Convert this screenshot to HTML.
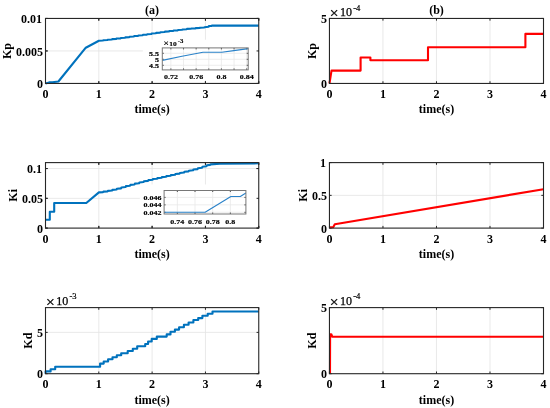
<!DOCTYPE html>
<html><head><meta charset="utf-8"><title>PID gains</title>
<style>
html,body{margin:0;padding:0;background:#fff;}
body{width:550px;height:408px;overflow:hidden;}
svg{display:block;}
#fig{width:550px;height:408px;}
svg text{font-family:"Liberation Serif", serif;}
</style></head>
<body>
<div id="fig">
<svg width="550" height="408" viewBox="0 0 550 408">
<rect width="550" height="408" fill="#fff"/>
<path d="M98.81 18.45V83.45M152.12 18.45V83.45M205.44 18.45V83.45M45.5 50.95H258.75" stroke="#e3e3e3" stroke-width="0.8" fill="none"/>
<path d="M45.5 83.45v-2.2M45.5 18.45v2.2M98.81 83.45v-2.2M98.81 18.45v2.2M152.12 83.45v-2.2M152.12 18.45v2.2M205.44 83.45v-2.2M205.44 18.45v2.2M258.75 83.45v-2.2M258.75 18.45v2.2M45.5 83.45h2.2M258.75 83.45h-2.2M45.5 50.95h2.2M258.75 50.95h-2.2M45.5 18.45h2.2M258.75 18.45h-2.2" stroke="#262626" stroke-width="1.0" fill="none"/>
<rect x="142.8" y="39.7" width="115.4" height="40.8" fill="#fff"/>
<path d="M98.81 18.45V83.45M152.12 18.45V83.45M205.44 18.45V83.45M45.5 50.95H258.75" stroke="none" stroke-width="0.8" fill="none"/>
<path d="M45.5 83.45v-2.2M45.5 18.45v2.2M98.81 83.45v-2.2M98.81 18.45v2.2M152.12 83.45v-2.2M152.12 18.45v2.2M205.44 83.45v-2.2M205.44 18.45v2.2M258.75 83.45v-2.2M258.75 18.45v2.2M45.5 83.45h2.2M258.75 83.45h-2.2M45.5 50.95h2.2M258.75 50.95h-2.2M45.5 18.45h2.2M258.75 18.45h-2.2" stroke="#262626" stroke-width="1.0" fill="none"/>
<path d="M45.5 83.4 L49.1 82.4 L52.4 82.3 L58.4 81.5 L85.8 47.7 L98.9 40.7 L102.95 40.53 L103.3 40.2 L107.35 40.02 L107.7 39.68 L111.75 39.48 L112.1 39.12 L116.15 38.92 L116.5 38.55 L120.55 38.35 L120.9 37.97 L124.95 37.75 L125.3 37.34 L129.35 37.12 L129.7 36.71 L133.75 36.48 L134.1 36.07 L138.15 35.85 L138.5 35.44 L142.55 35.22 L142.9 34.81 L146.95 34.59 L147.3 34.18 L151.35 33.95 L151.7 33.54 L155.75 33.32 L156.1 32.9 L160.15 32.68 L160.5 32.26 L164.55 32.03 L164.9 31.61 L168.95 31.42 L169.3 31.07 L173.35 30.88 L173.7 30.52 L177.75 30.33 L178.1 29.98 L182.15 29.79 L182.5 29.43 L186.55 29.24 L186.9 28.89 L190.95 28.75 L191.3 28.49 L195.35 28.35 L195.7 28.09 L199.75 27.95 L200.1 27.68 L204.15 27.52 L204.5 27.22 L208.55 26.78 L208.9 25.97 L211.55 25.84 L211.9 25.6 L258.75 25.6" stroke="#0072bd" stroke-width="2.1" fill="none" stroke-linejoin="round" stroke-linecap="butt"/>
<rect x="45.5" y="18.45" width="213.25" height="65" stroke="#262626" stroke-width="1.1" fill="none"/>
<text x="45.5" y="97.95" font-size="12" text-anchor="middle" font-weight="bold" fill="#000">0</text>
<text x="98.81" y="97.95" font-size="12" text-anchor="middle" font-weight="bold" fill="#000">1</text>
<text x="152.12" y="97.95" font-size="12" text-anchor="middle" font-weight="bold" fill="#000">2</text>
<text x="205.44" y="97.95" font-size="12" text-anchor="middle" font-weight="bold" fill="#000">3</text>
<text x="258.75" y="97.95" font-size="12" text-anchor="middle" font-weight="bold" fill="#000">4</text>
<text x="152.12" y="113.35" font-size="12" text-anchor="middle" font-weight="bold" fill="#000">time(s)</text>
<text x="43.1" y="88.05" font-size="12" text-anchor="end" font-weight="bold" fill="#000">0</text>
<text x="43.1" y="55.55" font-size="12" text-anchor="end" font-weight="bold" fill="#000">0.005</text>
<text x="42.1" y="23.05" font-size="12" text-anchor="end" font-weight="bold" fill="#000">0.01</text>
<text x="10.9" y="50.95" font-size="12" text-anchor="middle" font-weight="bold" fill="#000" transform="rotate(-90 10.9 50.95)">Kp</text>
<text x="152.12" y="13.55" font-size="12" text-anchor="middle" font-weight="bold" fill="#000">(a)</text>
<rect x="162.3" y="47.9" width="85.9" height="22" fill="#fff"/>
<path d="M170.89 47.9V69.9M183.52 47.9V69.9M196.15 47.9V69.9M208.79 47.9V69.9M221.42 47.9V69.9M234.05 47.9V69.9M246.68 47.9V69.9M162.3 65.3H248.2M162.3 59.3H248.2M162.3 53.3H248.2" stroke="#e8e8e8" stroke-width="0.8" fill="none"/>
<path d="M170.89 69.9v-1.5M170.89 47.9v1.5M183.52 69.9v-1.5M183.52 47.9v1.5M196.15 69.9v-1.5M196.15 47.9v1.5M208.79 69.9v-1.5M208.79 47.9v1.5M221.42 69.9v-1.5M221.42 47.9v1.5M234.05 69.9v-1.5M234.05 47.9v1.5M246.68 69.9v-1.5M246.68 47.9v1.5M162.3 65.3h1.5M248.2 65.3h-1.5M162.3 59.3h1.5M248.2 59.3h-1.5M162.3 53.3h1.5M248.2 53.3h-1.5" stroke="#262626" stroke-width="0.8" fill="none"/>
<path d="M162.3 60.4 L182 56.2 L203 52.2 L221.8 52.2 L233.8 50.6 L248.2 48.6" stroke="#2a82c9" stroke-width="1.1" fill="none" stroke-linejoin="round" stroke-linecap="butt"/>
<rect x="162.3" y="47.9" width="85.9" height="22" stroke="#777" stroke-width="1.0" fill="none"/>
<text transform="translate(170.89 79.2) scale(1 0.85)" x="0" y="0" font-size="8" text-anchor="middle" font-weight="bold" fill="#000" stroke="#000" stroke-width="0.2">0.72</text>
<text transform="translate(196.15 79.2) scale(1 0.85)" x="0" y="0" font-size="8" text-anchor="middle" font-weight="bold" fill="#000" stroke="#000" stroke-width="0.2">0.76</text>
<text transform="translate(221.42 79.2) scale(1 0.85)" x="0" y="0" font-size="8" text-anchor="middle" font-weight="bold" fill="#000" stroke="#000" stroke-width="0.2">0.8</text>
<text transform="translate(246.68 79.2) scale(1 0.85)" x="0" y="0" font-size="8" text-anchor="middle" font-weight="bold" fill="#000" stroke="#000" stroke-width="0.2">0.84</text>
<text transform="translate(159.1 55.7) scale(1 0.85)" x="0" y="0" font-size="8" text-anchor="end" font-weight="bold" fill="#000" stroke="#000" stroke-width="0.2">5.5</text>
<text transform="translate(159.1 61.7) scale(1 0.85)" x="0" y="0" font-size="8" text-anchor="end" font-weight="bold" fill="#000" stroke="#000" stroke-width="0.2">5</text>
<text transform="translate(159.1 67.7) scale(1 0.85)" x="0" y="0" font-size="8" text-anchor="end" font-weight="bold" fill="#000" stroke="#000" stroke-width="0.2">4.5</text>
<text transform="translate(163.4 45.7) scale(1 0.85)" x="0" y="0" font-size="9.5" text-anchor="start" font-weight="normal" fill="#000" stroke="#000" stroke-width="0.2">&#215;</text>
<text transform="translate(169.3 45.7) scale(1 0.85)" x="0" y="0" font-size="7.5" text-anchor="start" font-weight="bold" fill="#000" stroke="#000" stroke-width="0.15">10</text>
<text transform="translate(177.7 43.3) scale(1 0.85)" x="0" y="0" font-size="6.8" text-anchor="start" font-weight="bold" fill="#000" stroke="#000" stroke-width="0.15">-3</text>
<path d="M98.81 162.6V228.1M152.12 162.6V228.1M205.44 162.6V228.1M45.5 198.33H258.75M45.5 168.55H258.75" stroke="#e3e3e3" stroke-width="0.8" fill="none"/>
<path d="M45.5 228.1v-2.2M45.5 162.6v2.2M98.81 228.1v-2.2M98.81 162.6v2.2M152.12 228.1v-2.2M152.12 162.6v2.2M205.44 228.1v-2.2M205.44 162.6v2.2M258.75 228.1v-2.2M258.75 162.6v2.2M45.5 228.1h2.2M258.75 228.1h-2.2M45.5 198.33h2.2M258.75 198.33h-2.2M45.5 168.55h2.2M258.75 168.55h-2.2" stroke="#262626" stroke-width="1.0" fill="none"/>
<rect x="139.8" y="184.5" width="118.4" height="40.5" fill="#fff"/>
<path d="M98.81 162.6V228.1M152.12 162.6V228.1M205.44 162.6V228.1M45.5 198.33H258.75M45.5 168.55H258.75" stroke="none" stroke-width="0.8" fill="none"/>
<path d="M45.5 228.1v-2.2M45.5 162.6v2.2M98.81 228.1v-2.2M98.81 162.6v2.2M152.12 228.1v-2.2M152.12 162.6v2.2M205.44 228.1v-2.2M205.44 162.6v2.2M258.75 228.1v-2.2M258.75 162.6v2.2M45.5 228.1h2.2M258.75 228.1h-2.2M45.5 198.33h2.2M258.75 198.33h-2.2M45.5 168.55h2.2M258.75 168.55h-2.2" stroke="#262626" stroke-width="1.0" fill="none"/>
<path d="M45.5 219.8 L49.8 219.8 L49.8 211.7 L54.2 211.7 L54.2 203 L86.3 203 L98.9 192.4 L103.05 192.14 L103.4 191.67 L107.55 191.39 L107.9 190.87 L112.05 190.51 L112.4 189.84 L116.55 189.48 L116.9 188.81 L121.05 188.35 L121.4 187.51 L125.55 187.03 L125.9 186.15 L130.05 185.69 L130.4 184.85 L134.55 184.43 L134.9 183.65 L139.05 183.23 L139.4 182.45 L143.55 182.05 L143.9 181.3 L148.05 180.89 L148.4 180.14 L152.55 179.77 L152.9 179.07 L157.05 178.72 L157.4 178.08 L161.55 177.73 L161.9 177.08 L166.05 176.74 L166.4 176.09 L170.55 175.74 L170.9 175.1 L175.05 174.73 L175.4 174.05 L179.55 173.66 L179.9 172.93 L184.05 172.54 L184.4 171.81 L188.55 171.42 L188.9 170.69 L193.05 170.3 L193.4 169.57 L197.55 169.1 L197.9 168.22 L202.05 167.71 L202.4 166.76 L206.55 166.21 L206.9 165.2 L210.15 164.92 L210.5 164.4 L220 163.8 L258.75 163.3" stroke="#0072bd" stroke-width="2.1" fill="none" stroke-linejoin="round" stroke-linecap="butt"/>
<rect x="45.5" y="162.6" width="213.25" height="65.5" stroke="#262626" stroke-width="1.1" fill="none"/>
<text x="45.5" y="242.6" font-size="12" text-anchor="middle" font-weight="bold" fill="#000">0</text>
<text x="98.81" y="242.6" font-size="12" text-anchor="middle" font-weight="bold" fill="#000">1</text>
<text x="152.12" y="242.6" font-size="12" text-anchor="middle" font-weight="bold" fill="#000">2</text>
<text x="205.44" y="242.6" font-size="12" text-anchor="middle" font-weight="bold" fill="#000">3</text>
<text x="258.75" y="242.6" font-size="12" text-anchor="middle" font-weight="bold" fill="#000">4</text>
<text x="152.12" y="258" font-size="12" text-anchor="middle" font-weight="bold" fill="#000">time(s)</text>
<text x="43.1" y="232.7" font-size="12" text-anchor="end" font-weight="bold" fill="#000">0</text>
<text x="43.1" y="202.93" font-size="12" text-anchor="end" font-weight="bold" fill="#000">0.05</text>
<text x="42.1" y="173.15" font-size="12" text-anchor="end" font-weight="bold" fill="#000">0.1</text>
<text x="17.3" y="195.35" font-size="12" text-anchor="middle" font-weight="bold" fill="#000" transform="rotate(-90 17.3 195.35)">Ki</text>
<rect x="164.1" y="190.5" width="81.8" height="23.5" fill="#fff"/>
<path d="M177.35 190.5V214M195.02 190.5V214M212.69 190.5V214M230.35 190.5V214M164.1 212.32H245.9M164.1 204.86H245.9M164.1 197.4H245.9" stroke="#e8e8e8" stroke-width="0.8" fill="none"/>
<path d="M177.35 214v-1.5M177.35 190.5v1.5M195.02 214v-1.5M195.02 190.5v1.5M212.69 214v-1.5M212.69 190.5v1.5M230.35 214v-1.5M230.35 190.5v1.5M164.1 212.32h1.5M245.9 212.32h-1.5M164.1 204.86h1.5M245.9 204.86h-1.5M164.1 197.4h1.5M245.9 197.4h-1.5" stroke="#262626" stroke-width="0.8" fill="none"/>
<path d="M164.1 212.3 L205.1 212.3 L230.9 196.5 L240.3 196.5 L245.9 193" stroke="#2a82c9" stroke-width="1.1" fill="none" stroke-linejoin="round" stroke-linecap="butt"/>
<rect x="164.1" y="190.5" width="81.8" height="23.5" stroke="#777" stroke-width="1.0" fill="none"/>
<text transform="translate(177.35 223.6) scale(1 0.85)" x="0" y="0" font-size="8" text-anchor="middle" font-weight="bold" fill="#000" stroke="#000" stroke-width="0.2">0.74</text>
<text transform="translate(195.02 223.6) scale(1 0.85)" x="0" y="0" font-size="8" text-anchor="middle" font-weight="bold" fill="#000" stroke="#000" stroke-width="0.2">0.76</text>
<text transform="translate(212.69 223.6) scale(1 0.85)" x="0" y="0" font-size="8" text-anchor="middle" font-weight="bold" fill="#000" stroke="#000" stroke-width="0.2">0.78</text>
<text transform="translate(230.35 223.6) scale(1 0.85)" x="0" y="0" font-size="8" text-anchor="middle" font-weight="bold" fill="#000" stroke="#000" stroke-width="0.2">0.8</text>
<text transform="translate(161.4 200) scale(1 0.85)" x="0" y="0" font-size="8" text-anchor="end" font-weight="bold" fill="#000" stroke="#000" stroke-width="0.2">0.046</text>
<text transform="translate(161.4 207.46) scale(1 0.85)" x="0" y="0" font-size="8" text-anchor="end" font-weight="bold" fill="#000" stroke="#000" stroke-width="0.2">0.044</text>
<text transform="translate(161.4 214.92) scale(1 0.85)" x="0" y="0" font-size="8" text-anchor="end" font-weight="bold" fill="#000" stroke="#000" stroke-width="0.2">0.042</text>
<path d="M98.81 307.6V373.7M152.12 307.6V373.7M205.44 307.6V373.7M45.5 332.39H258.75" stroke="#e3e3e3" stroke-width="0.8" fill="none"/>
<path d="M45.5 373.7v-2.2M45.5 307.6v2.2M98.81 373.7v-2.2M98.81 307.6v2.2M152.12 373.7v-2.2M152.12 307.6v2.2M205.44 373.7v-2.2M205.44 307.6v2.2M258.75 373.7v-2.2M258.75 307.6v2.2M45.5 373.7h2.2M258.75 373.7h-2.2M45.5 332.39h2.2M258.75 332.39h-2.2" stroke="#262626" stroke-width="1.0" fill="none"/>
<path d="M45.6 373.7 L45.6 371.4 L50.6 371.4 L50.6 369.2 L55.2 369.2 L55.2 366.7 L100.1 366.7 L100.1 363.6 L103.7 363.6 L103.7 361.5 L108.1 361.5 L108.1 359.3 L112.5 359.3 L112.5 357.3 L116.8 357.3 L116.8 355.3 L121.2 355.3 L121.2 353.2 L127.7 353.2 L127.7 351 L132.8 351 L132.8 348.8 L137.2 348.8 L137.2 346.2 L145.2 346.2 L145.2 344 L148.1 344 L148.1 341.5 L151.7 341.5 L151.7 338.9 L156.8 338.9 L156.8 336.6 L166.7 336.6 L166.7 334.4 L170.5 334.4 L170.5 331.8 L174.9 331.8 L174.9 329.6 L179.1 329.6 L179.1 327.3 L183.9 327.3 L183.9 324.8 L188.6 324.8 L188.6 322.5 L193.4 322.5 L193.4 320 L198.2 320 L198.2 318.1 L202.4 318.1 L202.4 315.7 L207.7 315.7 L207.7 313.7 L212.5 313.7 L212.5 311.5 L258.75 311.5" stroke="#0072bd" stroke-width="2.1" fill="none" stroke-linejoin="round" stroke-linecap="butt"/>
<rect x="45.5" y="307.6" width="213.25" height="66.1" stroke="#262626" stroke-width="1.1" fill="none"/>
<text x="45.5" y="388.2" font-size="12" text-anchor="middle" font-weight="bold" fill="#000">0</text>
<text x="98.81" y="388.2" font-size="12" text-anchor="middle" font-weight="bold" fill="#000">1</text>
<text x="152.12" y="388.2" font-size="12" text-anchor="middle" font-weight="bold" fill="#000">2</text>
<text x="205.44" y="388.2" font-size="12" text-anchor="middle" font-weight="bold" fill="#000">3</text>
<text x="258.75" y="388.2" font-size="12" text-anchor="middle" font-weight="bold" fill="#000">4</text>
<text x="152.12" y="403.6" font-size="12" text-anchor="middle" font-weight="bold" fill="#000">time(s)</text>
<text x="43.1" y="378.3" font-size="12" text-anchor="end" font-weight="bold" fill="#000">0</text>
<text x="43.1" y="336.99" font-size="12" text-anchor="end" font-weight="bold" fill="#000">5</text>
<text x="32.2" y="340.65" font-size="12" text-anchor="middle" font-weight="bold" fill="#000" transform="rotate(-90 32.2 340.65)">Kd</text>
<text x="45.9" y="306.5" font-size="15.5" font-weight="normal" fill="#000" stroke="#000" stroke-width="0.3">&#215;</text>
<text x="56.3" y="304.6" font-size="12" font-weight="normal" fill="#000" stroke="#000" stroke-width="0.25">10</text>
<text x="69.5" y="299.2" font-size="8.6" font-weight="normal" fill="#000" stroke="#000" stroke-width="0.2">-3</text>
<path d="M382.96 18.45V83.45M436.48 18.45V83.45M489.99 18.45V83.45" stroke="#e3e3e3" stroke-width="0.8" fill="none"/>
<path d="M329.45 83.45v-2.2M329.45 18.45v2.2M382.96 83.45v-2.2M382.96 18.45v2.2M436.48 83.45v-2.2M436.48 18.45v2.2M489.99 83.45v-2.2M489.99 18.45v2.2M543.5 83.45v-2.2M543.5 18.45v2.2M329.45 83.45h2.2M543.5 83.45h-2.2M329.45 18.45h2.2M543.5 18.45h-2.2" stroke="#262626" stroke-width="1.0" fill="none"/>
<path d="M329.5 83.4 L331.5 70.6 L360.6 70.6 L360.6 57.5 L370.4 57.5 L370.4 60.2 L428 60.2 L428 47.3 L525.4 47.3 L525.4 33.9 L543.5 33.9" stroke="#ff0000" stroke-width="2.1" fill="none" stroke-linejoin="round" stroke-linecap="butt"/>
<rect x="329.45" y="18.45" width="214.05" height="65" stroke="#262626" stroke-width="1.1" fill="none"/>
<text x="329.45" y="97.95" font-size="12" text-anchor="middle" font-weight="bold" fill="#000">0</text>
<text x="382.96" y="97.95" font-size="12" text-anchor="middle" font-weight="bold" fill="#000">1</text>
<text x="436.48" y="97.95" font-size="12" text-anchor="middle" font-weight="bold" fill="#000">2</text>
<text x="489.99" y="97.95" font-size="12" text-anchor="middle" font-weight="bold" fill="#000">3</text>
<text x="543.5" y="97.95" font-size="12" text-anchor="middle" font-weight="bold" fill="#000">4</text>
<text x="436.48" y="113.35" font-size="12" text-anchor="middle" font-weight="bold" fill="#000">time(s)</text>
<text x="327.05" y="88.05" font-size="12" text-anchor="end" font-weight="bold" fill="#000">0</text>
<text x="327.05" y="23.05" font-size="12" text-anchor="end" font-weight="bold" fill="#000">5</text>
<text x="315.9" y="50.95" font-size="12" text-anchor="middle" font-weight="bold" fill="#000" transform="rotate(-90 315.9 50.95)">Kp</text>
<text x="436.48" y="13.55" font-size="12" text-anchor="middle" font-weight="bold" fill="#000">(b)</text>
<text x="329.65" y="17.95" font-size="15.5" font-weight="normal" fill="#000" stroke="#000" stroke-width="0.3">&#215;</text>
<text x="340.05" y="16.05" font-size="12" font-weight="normal" fill="#000" stroke="#000" stroke-width="0.25">10</text>
<text x="353.25" y="10.65" font-size="8.6" font-weight="normal" fill="#000" stroke="#000" stroke-width="0.2">-4</text>
<path d="M382.96 162.6V228.1M436.48 162.6V228.1M489.99 162.6V228.1M329.45 195.35H543.5" stroke="#e3e3e3" stroke-width="0.8" fill="none"/>
<path d="M329.45 228.1v-2.2M329.45 162.6v2.2M382.96 228.1v-2.2M382.96 162.6v2.2M436.48 228.1v-2.2M436.48 162.6v2.2M489.99 228.1v-2.2M489.99 162.6v2.2M543.5 228.1v-2.2M543.5 162.6v2.2M329.45 228.1h2.2M543.5 228.1h-2.2M329.45 195.35h2.2M543.5 195.35h-2.2M329.45 162.6h2.2M543.5 162.6h-2.2" stroke="#262626" stroke-width="1.0" fill="none"/>
<path d="M329.5 227.3 L333.2 227.3 L334.8 224.3 L543.5 189.2" stroke="#ff0000" stroke-width="2.1" fill="none" stroke-linejoin="round" stroke-linecap="butt"/>
<rect x="329.45" y="162.6" width="214.05" height="65.5" stroke="#262626" stroke-width="1.1" fill="none"/>
<text x="329.45" y="242.6" font-size="12" text-anchor="middle" font-weight="bold" fill="#000">0</text>
<text x="382.96" y="242.6" font-size="12" text-anchor="middle" font-weight="bold" fill="#000">1</text>
<text x="436.48" y="242.6" font-size="12" text-anchor="middle" font-weight="bold" fill="#000">2</text>
<text x="489.99" y="242.6" font-size="12" text-anchor="middle" font-weight="bold" fill="#000">3</text>
<text x="543.5" y="242.6" font-size="12" text-anchor="middle" font-weight="bold" fill="#000">4</text>
<text x="436.48" y="258" font-size="12" text-anchor="middle" font-weight="bold" fill="#000">time(s)</text>
<text x="327.05" y="232.7" font-size="12" text-anchor="end" font-weight="bold" fill="#000">0</text>
<text x="327.05" y="199.95" font-size="12" text-anchor="end" font-weight="bold" fill="#000">0.5</text>
<text x="326.05" y="167.2" font-size="12" text-anchor="end" font-weight="bold" fill="#000">1</text>
<text x="307.1" y="195.35" font-size="12" text-anchor="middle" font-weight="bold" fill="#000" transform="rotate(-90 307.1 195.35)">Ki</text>
<path d="M382.96 307.6V373.7M436.48 307.6V373.7M489.99 307.6V373.7" stroke="#e3e3e3" stroke-width="0.8" fill="none"/>
<path d="M329.45 373.7v-2.2M329.45 307.6v2.2M382.96 373.7v-2.2M382.96 307.6v2.2M436.48 373.7v-2.2M436.48 307.6v2.2M489.99 373.7v-2.2M489.99 307.6v2.2M543.5 373.7v-2.2M543.5 307.6v2.2M329.45 373.7h2.2M543.5 373.7h-2.2M329.45 307.6h2.2M543.5 307.6h-2.2" stroke="#262626" stroke-width="1.0" fill="none"/>
<path d="M330 373.7 L330.1 334.2 L331.3 334.2 L332.3 336.8 L543.5 336.8" stroke="#ff0000" stroke-width="2.1" fill="none" stroke-linejoin="round" stroke-linecap="butt"/>
<rect x="329.45" y="307.6" width="214.05" height="66.1" stroke="#262626" stroke-width="1.1" fill="none"/>
<text x="329.45" y="388.2" font-size="12" text-anchor="middle" font-weight="bold" fill="#000">0</text>
<text x="382.96" y="388.2" font-size="12" text-anchor="middle" font-weight="bold" fill="#000">1</text>
<text x="436.48" y="388.2" font-size="12" text-anchor="middle" font-weight="bold" fill="#000">2</text>
<text x="489.99" y="388.2" font-size="12" text-anchor="middle" font-weight="bold" fill="#000">3</text>
<text x="543.5" y="388.2" font-size="12" text-anchor="middle" font-weight="bold" fill="#000">4</text>
<text x="436.48" y="403.6" font-size="12" text-anchor="middle" font-weight="bold" fill="#000">time(s)</text>
<text x="327.05" y="378.3" font-size="12" text-anchor="end" font-weight="bold" fill="#000">0</text>
<text x="327.05" y="312.2" font-size="12" text-anchor="end" font-weight="bold" fill="#000">5</text>
<text x="316.3" y="340.65" font-size="12" text-anchor="middle" font-weight="bold" fill="#000" transform="rotate(-90 316.3 340.65)">Kd</text>
<text x="329.65" y="306.5" font-size="15.5" font-weight="normal" fill="#000" stroke="#000" stroke-width="0.3">&#215;</text>
<text x="340.05" y="304.6" font-size="12" font-weight="normal" fill="#000" stroke="#000" stroke-width="0.25">10</text>
<text x="353.25" y="299.2" font-size="8.6" font-weight="normal" fill="#000" stroke="#000" stroke-width="0.2">-4</text>
</svg>
</div>
</body></html>
